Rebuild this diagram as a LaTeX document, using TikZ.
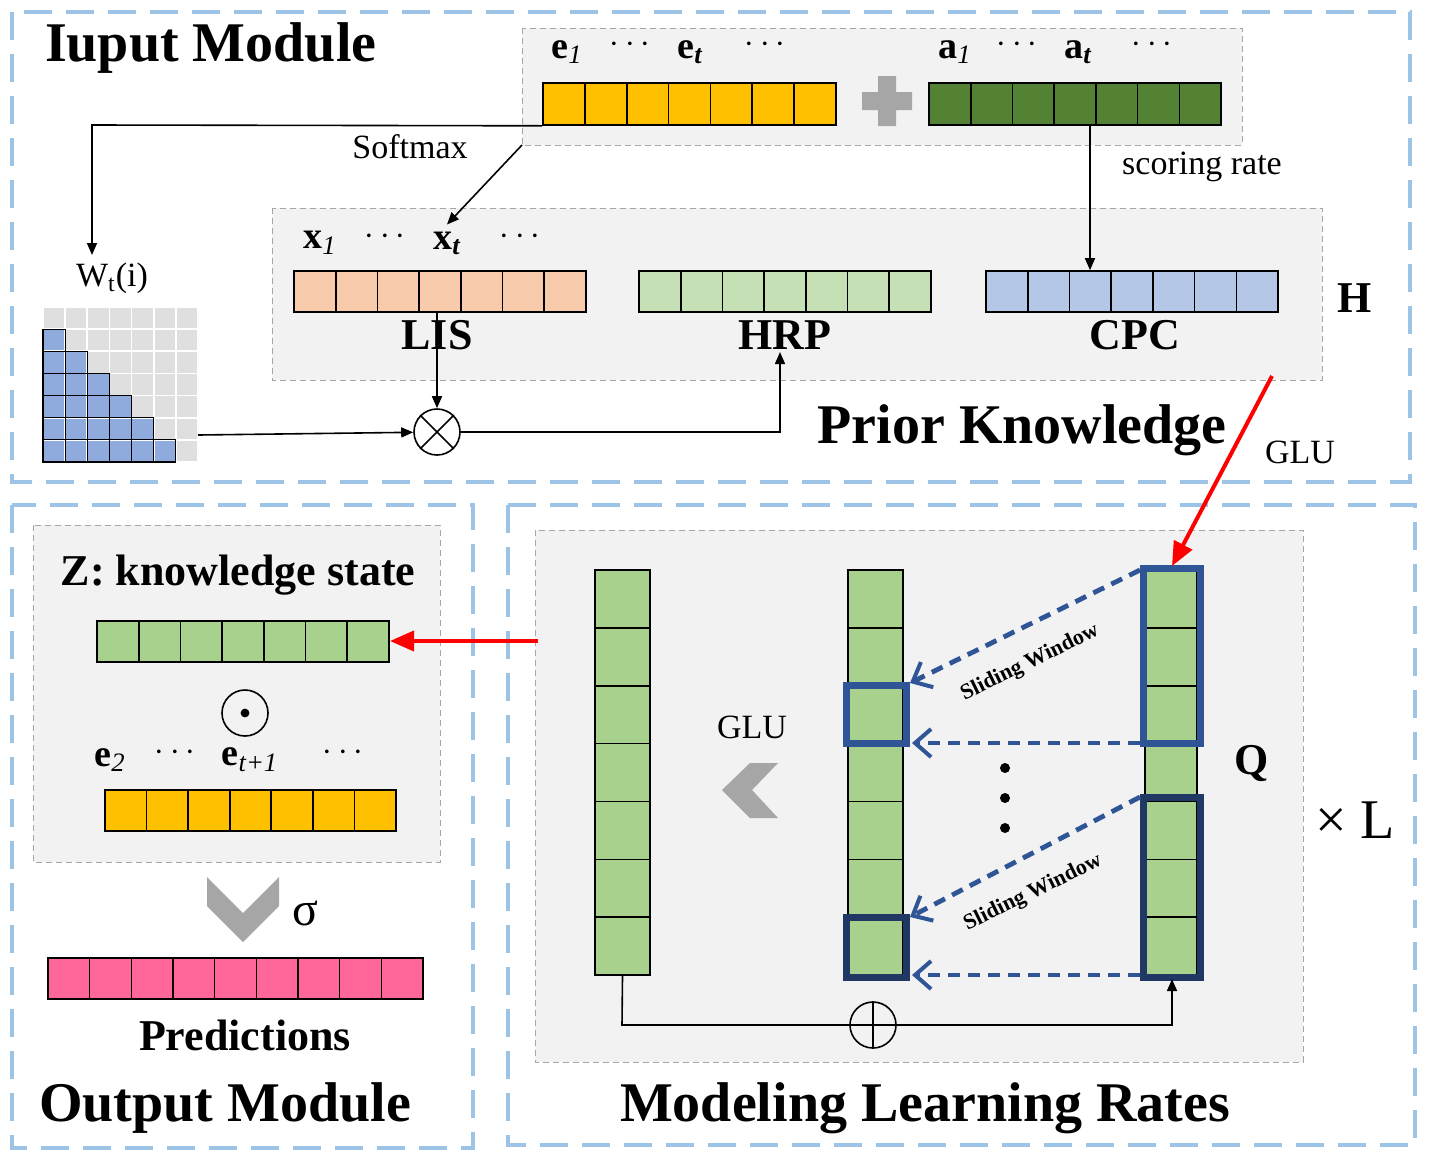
\documentclass[tikz,border=0pt]{standalone}
\usepackage{fontspec}
\setmainfont{Liberation Serif}
\usetikzlibrary{arrows.meta,calc}
\definecolor{yel}{HTML}{FFC000}
\definecolor{dgreen}{HTML}{548235}
\definecolor{peach}{HTML}{F8CBAD}
\definecolor{lgreen}{HTML}{C5E0B4}
\definecolor{mgreen}{HTML}{A9D18E}
\definecolor{lblue}{HTML}{B4C7E7}
\definecolor{pink}{HTML}{FF6699}
\definecolor{frame}{HTML}{9DC3E6}
\definecolor{wblue}{HTML}{2F5597}
\definecolor{navy}{HTML}{203864}
\definecolor{mblue}{HTML}{8FAADC}
\begin{document}
\begin{tikzpicture}[x=0.5pt,y=-0.5pt,
  outer/.style={draw=frame,line width=2pt,dash pattern=on 14pt off 7pt},
  panel/.style={draw=gray!70,fill=gray!10,densely dashed,line width=0.4pt},
  bar/.style 2 args={draw,line width=0.8pt,minimum width=#1*0.5pt,minimum height=#2*0.5pt,inner sep=0pt},
  cells/.style={path picture={\foreach \i in {1,...,#1}{\draw[line width=0.8pt]
    ($(path picture bounding box.south west)!\i/#1!(path picture bounding box.south east)$) --
    ($(path picture bounding box.north west)!\i/#1!(path picture bounding box.north east)$);}}},
  vcells/.style={path picture={\foreach \i in {1,...,#1}{\draw[line width=0.8pt]
    ($(path picture bounding box.north west)!\i/#1!(path picture bounding box.south west)$) --
    ($(path picture bounding box.north east)!\i/#1!(path picture bounding box.south east)$);}}},
  title/.style={font=\fontsize{28}{30}\selectfont\bfseries},
  big/.style={font=\fontsize{22}{24}\selectfont\bfseries},
  lab/.style={font=\fontsize{17}{19}\selectfont},
  sym/.style={font=\fontsize{19}{21}\selectfont\bfseries},
  dots/.style={font=\fontsize{19}{21}\selectfont\bfseries},
  arr/.style={-{Triangle[length=6pt,width=5pt]},line width=0.8pt},
  swin/.style={wblue,line width=2.4pt,dash pattern=on 6pt off 4pt,-{Straight Barb[length=8pt,width=14pt,line width=2pt]}},
  sw/.style={font=\fontsize{11}{12}\selectfont\bfseries,rotate=26},
  chev/.style={fill=gray!70,draw=none},
  circ/.style={circle,draw,line width=0.8pt,minimum size=23pt,inner sep=0pt}]
\useasboundingbox (0,0) rectangle (1433,1168);
% outer frames
\draw[outer] (12,12) rectangle (1410,482);
\draw[outer] (12,505) rectangle (473,1148);
\draw[outer] (508,505) rectangle (1415,1145);
% panels
\draw[panel] (522,28) rectangle (1242,145);
\draw[panel] (272,208) rectangle (1322,380);
\draw[panel] (33,525) rectangle (440,862);
\draw[panel] (535,530) rectangle (1303,1062);

% ---- input module
\node[title,anchor=west] (tin) at (38,48) {Iuput Module};
\node[bar={293}{42},fill=yel,cells=7] (ebar) at (689.5,104) {};
\node[bar={292}{42},fill=dgreen,cells=7] (abar) at (1075,104) {};
\fill[gray!70] (862,92) rectangle (912,110) (878,76) rectangle (896,126);
\node[sym] (e1) at (567,52) {e\textsubscript{\itshape\mdseries 1}};
\node[dots] (d1) at (630,45) {$\cdots$};
\node[sym] (et) at (690,52) {e\textsubscript{\itshape t}};
\node[dots] (d2) at (765,45) {$\cdots$};
\node[sym] (a1) at (955,52) {a\textsubscript{\itshape\mdseries 1}};
\node[dots] (d3) at (1017,45) {$\cdots$};
\node[sym] (at) at (1078,52) {a\textsubscript{\itshape t}};
\node[dots] (d4) at (1152,45) {$\cdots$};

% softmax
\coordinate (wt) at (92,255);
\draw[arr] (ebar.south west) -- (92,125) -- (wt);
\node[lab] (smax) at (410,147) {Softmax};
\node[lab] (wlab) at (112,278) {W\textsubscript{t}(i)};
% attention matrix
\fill[gray!25] (43,307) rectangle (198,462);
\foreach \r in {1,...,6}{\foreach \c in {1,...,\r}{
  \fill[mblue] ({43+(\c-1)*22.14},{307+\r*22.14}) rectangle ++(22.14,22.14);}}
\foreach \i in {0,...,7}{
  \draw[white,line width=0.8pt] ({43+\i*22.14},307) -- ++(0,155);
  \draw[white,line width=0.8pt] (43,{307+\i*22.14}) -- ++(155,0);}
\foreach \r in {1,...,6}{\foreach \c in {1,...,\r}{
  \draw[line width=0.6pt] ({43+(\c-1)*22.14},{307+\r*22.14}) rectangle ++(22.14,22.14);}}
\coordinate (mat) at (198,435);

% ---- prior knowledge
\node[bar={292}{41},fill=peach,cells=7] (lis) at (440,291.5) {};
\node[bar={292}{41},fill=lgreen,cells=7] (hrp) at (785,291.5) {};
\node[bar={292}{41},fill=lblue,cells=7] (cpc) at (1132,291.5) {};
\node[sym] (x1) at (320,243) {x\textsubscript{\itshape\mdseries 1}};
\node[dots] (d5) at (385,237) {$\cdots$};
\node[sym] (xt) at (447,243) {x\textsubscript{\itshape t}};
\node[dots] (d6) at (520,237) {$\cdots$};
\node[big] (llis) at (437,335) {LIS};
\node[big] (lhrp) at (785,335) {HRP};
\node[big] (lcpc) at (1135,335) {CPC};
\node[big] (lh) at (1355,298) {H};
\node[title] (tpk) at (1022,430) {Prior Knowledge};
\node[lab] (glu1) at (1300,452) {GLU};
\draw[arr] (522,145) -- (xt.north);
\draw[arr] (1090,125) -- (cpc.north -| 1090,0);
\node[lab] (srate) at (1202,167) {scoring rate};
\node[circ] (otim) at (437,432) {};
\draw[line width=0.8pt] (otim.north west) -- (otim.south east) (otim.north east) -- (otim.south west);
\draw[arr] (437,312) -- (otim);
\draw[arr] (mat) -- (otim);
\draw[arr] (otim) -- (780,432) -- (780,352);

% ---- modeling learning rates
\node[bar={55}{405},fill=mgreen,vcells=7] (c1) at (622.5,772.5) {};
\node[bar={55}{405},fill=mgreen,vcells=7] (c2) at (875.5,772.5) {};
\node[bar={52}{405},fill=mgreen,vcells=7] (q) at (1171,772.5) {};
\draw[wblue,line width=3.5pt] (1143,568) rectangle (1200,743);
\draw[navy,line width=3.5pt] (1143,797) rectangle (1200,977);
\draw[wblue,line width=3.5pt] (846,685) rectangle (906,743);
\draw[navy,line width=3.5pt] (846,917) rectangle (906,977);
\draw[swin] (1140,570) -- (910,683);
\draw[swin] (1140,743) -- (912,743);
\draw[swin] (1140,797) -- (910,917);
\draw[swin] (1140,975) -- (912,975);
\node[sw] (sw1) at (1030,663) {Sliding Window};
\node[sw] (sw2) at (1033,893) {Sliding Window};
\foreach \y in {768,798,828} \fill (1005,\y) circle (2.5pt);
\node[big] (lq) at (1252,763) {Q};
\node[font=\fontsize{28}{30}\selectfont] (xl) at (1355,820) {× L};
\node[lab] (glu2) at (752,727) {GLU};
\fill[chev] (778,763) -- (752,790) -- (778,818) -- (750,818) -- (722,790) -- (750,763) -- cycle;
\node[circ] (opl) at (873,1025) {};
\draw[line width=0.8pt] (opl.north) -- (opl.south) (opl.west) -- (opl.east);
\draw[arr] (c1.south) -- (622,1025) -- (1172,1025) -- (1172,979);
\node[title] (tml) at (925,1108) {Modeling Learning Rates};
\draw[red,line width=2pt,-{Triangle[length=12pt,width=10pt]}] (1272,376) -- (1172,566);

% ---- output module
\draw[red,line width=2pt,-{Triangle[length=12pt,width=10pt]}] (538,641) -- (390,641);
\node[big] (zst) at (238,575) {Z: knowledge state};
\node[bar={292}{41},fill=mgreen,cells=7] (zbar) at (243,641.5) {};
\node[circ] (odot) at (245,713) {};
\fill (odot) circle (2.2pt);
\node[sym] (e2) at (110,760) {e\textsubscript{\itshape\mdseries 2}};
\node[dots] (d7) at (175,753) {$\cdots$};
\node[sym] (et1) at (250,760) {e\textsubscript{\itshape\mdseries t+1}};
\node[dots] (d8) at (343,753) {$\cdots$};
\node[bar={291}{41},fill=yel,cells=7] (e2bar) at (250.5,810.5) {};
\fill[chev] (207,877) -- (243,913) -- (279,877) -- (279,906) -- (243,942) -- (207,906) -- cycle;
\node[font=\fontsize{24}{26}\selectfont] (sig) at (305,913) {σ};
\node[bar={375}{41},fill=pink,cells=9] (pbar) at (235.5,978.5) {};
\node[big] (lpred) at (245,1035) {Predictions};
\node[title] (tout) at (225,1108) {Output Module};
\end{tikzpicture}
\end{document}
